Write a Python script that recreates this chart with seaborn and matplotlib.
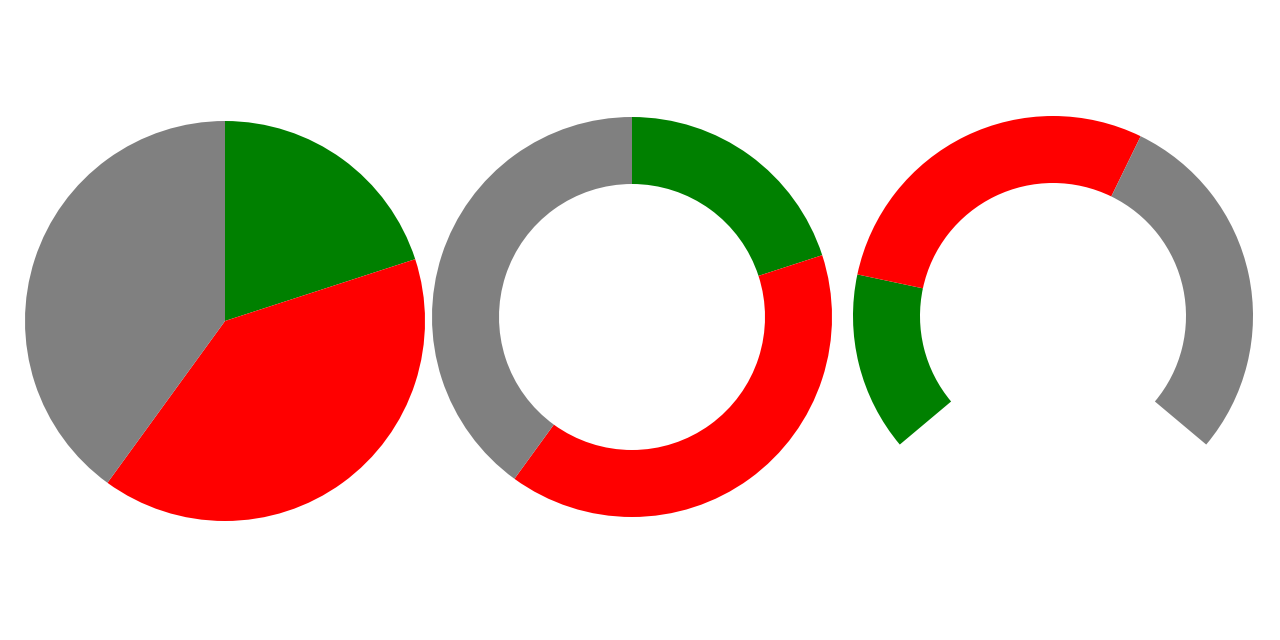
import matplotlib
matplotlib.use("Agg")
import matplotlib.pyplot as plt
import seaborn as sns

# data
labels = ["Green", "Red", "Gray"]
values = [20, 40, 40]
colors = ["green", "red", "gray"]

gauge_span = 260  # degrees covered by the gauge arc


def draw_pie(ax, vals, cols, start=90, width=None):
    props = {"linewidth": 0}
    if width is not None:
        props["width"] = width
    ax.pie(vals, colors=cols, startangle=start, counterclock=False,
           radius=1.0, wedgeprops=props)
    ax.set_xlim(-1, 1)
    ax.set_ylim(-1, 1)
    ax.set_aspect("equal")
    ax.axis("off")


if __name__ == "__main__":
    sns.set_style("white")
    fig = plt.figure(figsize=(12.8, 6.4), dpi=100)
    W, H = 1280, 640

    # plain pie
    ax1 = fig.add_axes([25 / W, 119 / H, 400 / W, 400 / H])
    draw_pie(ax1, values, colors)

    # donut
    ax2 = fig.add_axes([432 / W, 123 / H, 400 / W, 400 / H])
    draw_pie(ax2, values, colors, width=0.335)

    # gauge: partial donut with an invisible filler slice
    total = sum(values)
    filler = total * (360 - gauge_span) / gauge_span
    ax3 = fig.add_axes([853 / W, 124 / H, 400 / W, 400 / H])
    draw_pie(ax3, values + [filler], colors + ["none"],
             start=90 + gauge_span / 2, width=0.335)

    fig.savefig("out.png", dpi=100, facecolor="white")
